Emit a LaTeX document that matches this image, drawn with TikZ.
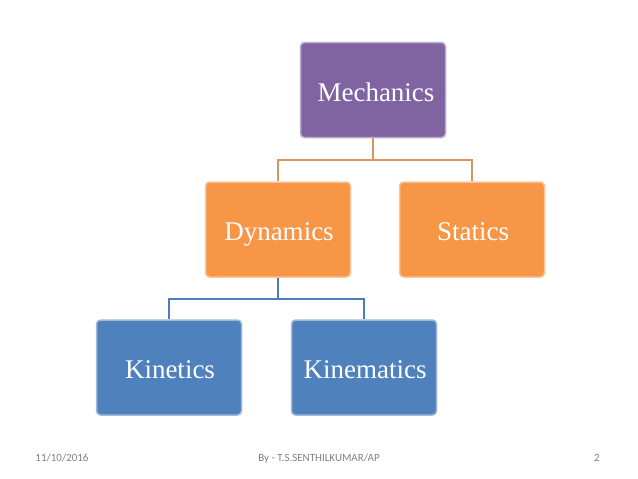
\documentclass[tikz,border=0pt]{standalone}
\usepackage{fontspec}
\setmainfont{Liberation Serif}
\newfontfamily\footfont{Carlito}
\definecolor{purp}{HTML}{8064A2}
\definecolor{orng}{HTML}{F79646}
\definecolor{blu}{HTML}{4F81BD}
\definecolor{orngline}{HTML}{D99560}
\definecolor{bluline}{HTML}{4A7EBB}
\begin{document}
\begin{tikzpicture}[x=1pt,y=-1pt,
  boxst/.style={draw=#1!55!white,line width=1.5pt,fill=#1,rounded corners=4pt,minimum width=145pt,minimum height=95pt,inner sep=0pt},
  lbl/.style={text=white,font=\fontsize{27}{30}\selectfont,anchor=base},
  foot/.style={font=\footfont\fontsize{11}{12}\selectfont,text=gray,anchor=base}]
\useasboundingbox (0,0) rectangle (638,479);
\node[boxst=purp] (mech) at (373,90) {};
\node[boxst=orng] (dyn) at (278,229.5) {};
\node[boxst=orng] (stat) at (472,229.5) {};
\node[boxst=blu] (kin) at (169,367.5) {};
\node[boxst=blu] (kmat) at (364,367.5) {};
\node[lbl] (tm) at ([xshift=3pt,yshift=-11pt]mech.center) {Mechanics};
\node[lbl] (td) at ([xshift=1pt,yshift=-11pt]dyn.center) {Dynamics};
\node[lbl] (ts) at ([xshift=1pt,yshift=-11pt]stat.center) {Statics};
\node[lbl] (tk) at ([xshift=1pt,yshift=-11pt]kin.center) {Kinetics};
\node[lbl] (tkm) at ([xshift=1pt,yshift=-11pt]kmat.center) {Kinematics};
\coordinate (m1) at (373,160);
\coordinate (d1) at (278,299);
\draw[orngline,line width=1.5pt] (mech.south) -- (m1) -| (dyn.north);
\draw[orngline,line width=1.5pt] (m1) -| (stat.north);
\draw[bluline,line width=1.5pt] (dyn.south) -- (d1) -| (kin.north);
\draw[bluline,line width=1.5pt] (d1) -| (kmat.north);
\node[foot] (d) at (62,461) {11/10/2016};
\node[foot] (b) at (319,461) {By - T.S.SENTHILKUMAR/AP};
\node[foot] (p) at (597,461) {2};
\end{tikzpicture}
\end{document}
